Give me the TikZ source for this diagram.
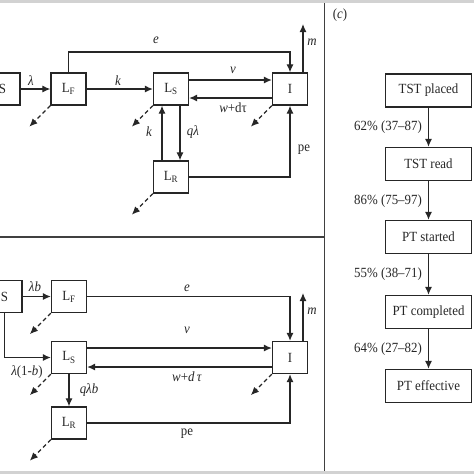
\documentclass[tikz,border=0pt]{standalone}
\usepackage{fontspec}
\setmainfont{Liberation Serif}[FakeStretch=0.92]
\usetikzlibrary{arrows.meta}
\definecolor{ink}{HTML}{262626}
\definecolor{sep}{HTML}{404040}
\tikzset{
  every node/.style={font=\fontsize{14}{16}\selectfont, text=ink},
  box/.style={draw=ink, line width=1.3pt, minimum width=35pt, minimum height=32pt, inner sep=0pt},
  bigbox/.style={draw=ink, line width=1.3pt, minimum width=86pt, minimum height=33pt, inner sep=0pt},
  arr/.style={draw=ink, line width=1.2pt, -{Latex[length=8pt,width=7pt]}},
  darr/.style={draw=ink, line width=1.2pt, dash pattern=on 4pt off 3pt, -{Latex[length=8pt,width=7pt]}},
  lbl/.style={inner sep=1pt},
  seprule/.style={draw=sep, line width=1.5pt}
}
\begin{document}
\begin{tikzpicture}[x=1pt,y=-1pt]
\useasboundingbox (0,0) rectangle (474,474);
% page bands and separators
\fill[gray!35] (0,0) rectangle (474,3);
\fill[gray!35] (0,471) rectangle (474,474);
\draw[seprule] (324.5,3) -- (324.5,471);
\draw[seprule] (0,237) -- (324.5,237);

% ---------- top panel ----------
\node[box] (S1) at (2.5,89) {S};
\node[box] (LF1) at (68.5,89) {L\textsubscript{F}};
\node[box] (LS1) at (171,89) {L\textsubscript{S}};
\node[box] (I1) at (290,89) {I};
\node[box] (LR1) at (171,177) {L\textsubscript{R}};
\coordinate (e1) at (290,52);
\coordinate (m1) at (303,24);

\draw[arr] (S1.east) -- (LF1.west);
\draw[arr] (LF1.north) |- (e1) -- (I1.north);
\draw[arr] ([xshift=13pt]I1.north) -- (m1);
\draw[arr] (LF1.east) -- (LS1.west);
\draw[arr] ([yshift=9pt]LS1.east) -- ([yshift=9pt]I1.west);
\draw[arr] ([yshift=-9pt]I1.west) -- ([yshift=-9pt]LS1.east);
\draw[arr] ([xshift=-9pt]LR1.north) -- ([xshift=-9pt]LS1.south);
\draw[arr] ([xshift=9pt]LS1.south) -- ([xshift=9pt]LR1.north);
\draw[arr] (LR1.east) -| (I1.south);
\draw[darr] (LF1.south west) -- ++(-21,21);
\draw[darr] (LS1.south west) -- ++(-21,21);
\draw[darr] (I1.south west) -- ++(-21,21);
\draw[darr] (LR1.south west) -- ++(-21,21);

\node[lbl] (tl1) at (31,81) {\textit{λ}};
\node[lbl] (te1) at (156,40) {\textit{e}};
\node[lbl] (tm1) at (312,42) {\textit{m}};
\node[lbl] (tk1) at (118,81) {\textit{k}};
\node[lbl] (tv1) at (233,70) {\textit{v}};
\node[lbl] (tw1) at (233,108) {\textit{w}+dτ};
\node[lbl] (tk2) at (149,132) {\textit{k}};
\node[lbl] (tq1) at (193,132) {\textit{qλ}};
\node[lbl] (tp1) at (304,150) {pe};

% ---------- bottom panel ----------
\node[box] (S2) at (4.5,296.5) {S};
\node[box] (LF2) at (69,296.5) {L\textsubscript{F}};
\node[box] (LS2) at (69,357.5) {L\textsubscript{S}};
\node[box] (I2) at (290,357.5) {I};
\node[box] (LR2) at (69,423) {L\textsubscript{R}};
\coordinate (m2) at (303,293);

\draw[arr] (S2.east) -- (LF2.west);
\draw[arr] (LF2.east) -| (I2.north);
\draw[arr] ([xshift=13pt]I2.north) -- (m2);
\draw[arr] (S2.south) |- (LS2.west);
\draw[arr] ([yshift=9.5pt]LS2.east) -- ([yshift=9.5pt]I2.west);
\draw[arr] ([yshift=-9.5pt]I2.west) -- ([yshift=-9.5pt]LS2.east);
\draw[arr] (LS2.south) -- (LR2.north);
\draw[arr] (LR2.east) -| (I2.south);
\draw[darr] (LF2.south west) -- ++(-21,21);
\draw[darr] (LS2.south west) -- ++(-21,21);
\draw[darr] (I2.south west) -- ++(-21,21);
\draw[darr] (LR2.south west) -- ++(-21,21);

\node[lbl] (bl1) at (35,287) {\textit{λb}};
\node[lbl] (be1) at (187,288) {\textit{e}};
\node[lbl] (bm1) at (312,311) {\textit{m}};
\node[lbl] (bl2) at (27,372) {\textit{λ}(1-\textit{b})};
\node[lbl] (bv1) at (187,330) {\textit{v}};
\node[lbl] (bw1) at (187,377) {\textit{w}+\textit{d\,τ}};
\node[lbl] (bq1) at (89,390) {\textit{qλb}};
\node[lbl] (bp1) at (187,434) {pe};

% ---------- right panel ----------
\node[lbl] (cl) at (340,15) {(\textit{c})};
\node[bigbox] (P1) at (428.5,90.5) {TST placed};
\node[bigbox] (P2) at (428.5,164) {TST read};
\node[bigbox] (P3) at (428.5,237) {PT started};
\node[bigbox] (P4) at (428.5,312) {PT completed};
\node[bigbox] (P5) at (428.5,386) {PT effective};
\draw[arr] (P1) -- (P2);
\draw[arr] (P2) -- (P3);
\draw[arr] (P3) -- (P4);
\draw[arr] (P4) -- (P5);
\node[lbl, anchor=east] (r1) at (423,127) {62\% (37–87)};
\node[lbl, anchor=east] (r2) at (423,201) {86\% (75–97)};
\node[lbl, anchor=east] (r3) at (423,274) {55\% (38–71)};
\node[lbl, anchor=east] (r4) at (423,349) {64\% (27–82)};
\end{tikzpicture}
\end{document}
